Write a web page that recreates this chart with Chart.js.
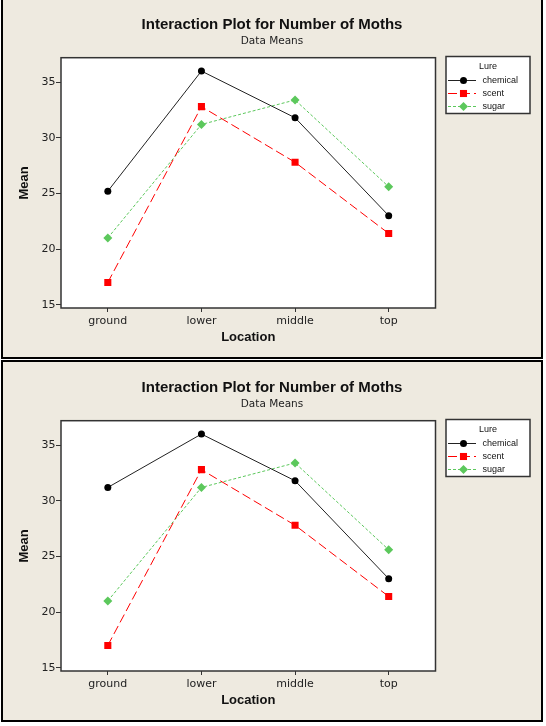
<!DOCTYPE html>
<html>
<head>
<meta charset="utf-8">
<script src="https://cdn.jsdelivr.net/npm/chart.js@4/dist/chart.umd.min.js"></script>
<style>
  body { margin: 0; background: #fff; width: 546px; height: 726px; overflow: hidden; position: relative; }
  .panel { position: absolute; left: 1px; width: 538px; height: 358px; border: 2px solid #000; background: #eeeae0; }
  #p1 { top: -3.5px; }
  #p2 { top: 360px; }
  canvas { display: block; }
</style>
</head>
<body>
<div class="panel" id="p1"><canvas id="chart1" width="538" height="358"></canvas></div>
<div class="panel" id="p2"><canvas id="chart2" width="538" height="358"></canvas></div>

<script>
// data
const locations = ["ground", "lower", "middle", "top"];
const meanTicks = [15, 20, 25, 30, 35];
const chemicalTop = [25.2, 36.0, 31.8, 23.0];
const chemicalBottom = [31.2, 36.0, 31.8, 23.0];
const scent = [17.0, 32.8, 27.8, 21.4];
const sugar = [21.0, 31.2, 33.4, 25.6];

const SANS = "'DejaVu Sans', sans-serif";
const BOLD = "'Liberation Sans', Arial, sans-serif";

// white plot area with a dark frame
const plotBox = {
  id: "plotBox",
  beforeDraw(chart) {
    const { ctx, chartArea: a } = chart;
    ctx.save();
    ctx.fillStyle = "#fff";
    ctx.fillRect(a.left, a.top, a.width, a.height);
    ctx.restore();
  },
  afterDraw(chart) {
    const { ctx, chartArea: a } = chart;
    ctx.save();
    ctx.strokeStyle = "#333";
    ctx.lineWidth = 1.5;
    ctx.strokeRect(a.left, a.top, a.width, a.height);
    ctx.restore();
  },
};

// Minitab style legend box: "Lure" heading, line + marker per series
const lureLegend = {
  id: "lureLegend",
  afterDraw(chart) {
    const ctx = chart.ctx;
    const x0 = 443, y0 = 57.5, w = 84, h = 57;
    ctx.save();
    ctx.fillStyle = "#fff";
    ctx.fillRect(x0, y0, w, h);
    ctx.strokeStyle = "#333";
    ctx.lineWidth = 1.5;
    ctx.strokeRect(x0, y0, w, h);

    ctx.fillStyle = "#111";
    ctx.font = "9px " + BOLD;
    ctx.textAlign = "center";
    ctx.textBaseline = "middle";
    ctx.fillText("Lure", x0 + w / 2, y0 + 10);

    chart.data.datasets.forEach((ds, i) => {
      const y = y0 + 24 + i * 13;
      ctx.strokeStyle = ds.borderColor;
      ctx.lineWidth = 1;
      ctx.setLineDash(ds.borderDash || []);
      ctx.beginPath();
      ctx.moveTo(x0 + 2, y);
      ctx.lineTo(x0 + 30, y);
      ctx.stroke();
      ctx.setLineDash([]);
      ctx.fillStyle = ds.pointBackgroundColor;
      ctx.strokeStyle = ds.pointBorderColor;
      Chart.helpers.drawPoint(ctx, {
        pointStyle: ds.pointStyle,
        radius: ds.pointRadius,
        rotation: 0,
        borderWidth: 0,
      }, x0 + 17.5, y);
      ctx.fillStyle = "#111";
      ctx.textAlign = "left";
      ctx.font = "9px " + BOLD;
      ctx.fillText(ds.label, x0 + 36.5, y);
    });
    ctx.restore();
  },
};

function makeChart(id, chemical) {
  return new Chart(document.getElementById(id), {
    type: "line",
    data: {
      labels: locations,
      datasets: [
        {
          label: "chemical",
          data: chemical,
          borderColor: "#222",
          borderWidth: 1,
          borderDash: [],
          pointStyle: "circle",
          pointRadius: 3.5,
          pointBackgroundColor: "#000",
          pointBorderColor: "#000",
          pointBorderWidth: 0,
        },
        {
          label: "scent",
          data: scent,
          borderColor: "#ff0000",
          borderWidth: 1,
          borderDash: [9, 4],
          pointStyle: "rect",
          pointRadius: 5,
          pointBackgroundColor: "#ff0000",
          pointBorderColor: "#ff0000",
          pointBorderWidth: 0,
        },
        {
          label: "sugar",
          data: sugar,
          borderColor: "#5cc85c",
          borderWidth: 1,
          borderDash: [3, 2],
          pointStyle: "rectRot",
          pointRadius: 4.5,
          pointBackgroundColor: "#5cc85c",
          pointBorderColor: "#5cc85c",
          pointBorderWidth: 0,
        },
      ],
    },
    options: {
      responsive: false,
      animation: false,
      layout: { padding: 0 },
      scales: {
        x: {
          type: "category",
          offset: true,
          afterFit: s => { s.height = 49; },
          grid: { drawOnChartArea: false, drawTicks: true, tickLength: 4, color: "#333", offset: false },
          border: { display: false },
          ticks: { color: "#222", font: { family: SANS, size: 11 }, padding: 3 },
          title: {
            display: true,
            text: "Location",
            color: "#111",
            font: { family: BOLD, size: 13, weight: "bold" },
            padding: { top: 0, bottom: 12.2 },
          },
        },
        y: {
          min: 14.7,
          max: 37.2,
          afterFit: s => { s.width = 58; },
          afterBuildTicks: s => { s.ticks = meanTicks.map(v => ({ value: v })); },
          grid: { drawOnChartArea: false, drawTicks: true, tickLength: 5, color: "#333" },
          border: { display: false },
          ticks: { color: "#222", font: { family: SANS, size: 11 }, padding: 0.5 },
          title: {
            display: true,
            text: "Mean",
            color: "#111",
            font: { family: BOLD, size: 13, weight: "bold" },
            padding: { top: 13.7, bottom: 0 },
          },
        },
        // empty right-hand strip that holds the legend box
        legendSpace: {
          type: "linear",
          position: "right",
          afterFit: s => { s.width = 105.5; },
          grid: { display: false },
          border: { display: false },
          ticks: { display: false },
        },
      },
      plugins: {
        legend: { display: false },
        tooltip: { enabled: false },
        title: {
          display: true,
          text: "Interaction Plot for Number of Moths",
          color: "#111",
          font: { family: BOLD, size: 15, weight: "bold", lineHeight: 1.2 },
          padding: { top: 16.7, bottom: 0 },
        },
        subtitle: {
          display: true,
          text: "Data Means",
          color: "#222",
          font: { family: SANS, size: 10.5, lineHeight: 1.2 },
          padding: { top: 1, bottom: 10.4 },
        },
      },
    },
    plugins: [plotBox, lureLegend],
  });
}

makeChart("chart1", chemicalTop);
makeChart("chart2", chemicalBottom);
</script>
</body>
</html>
